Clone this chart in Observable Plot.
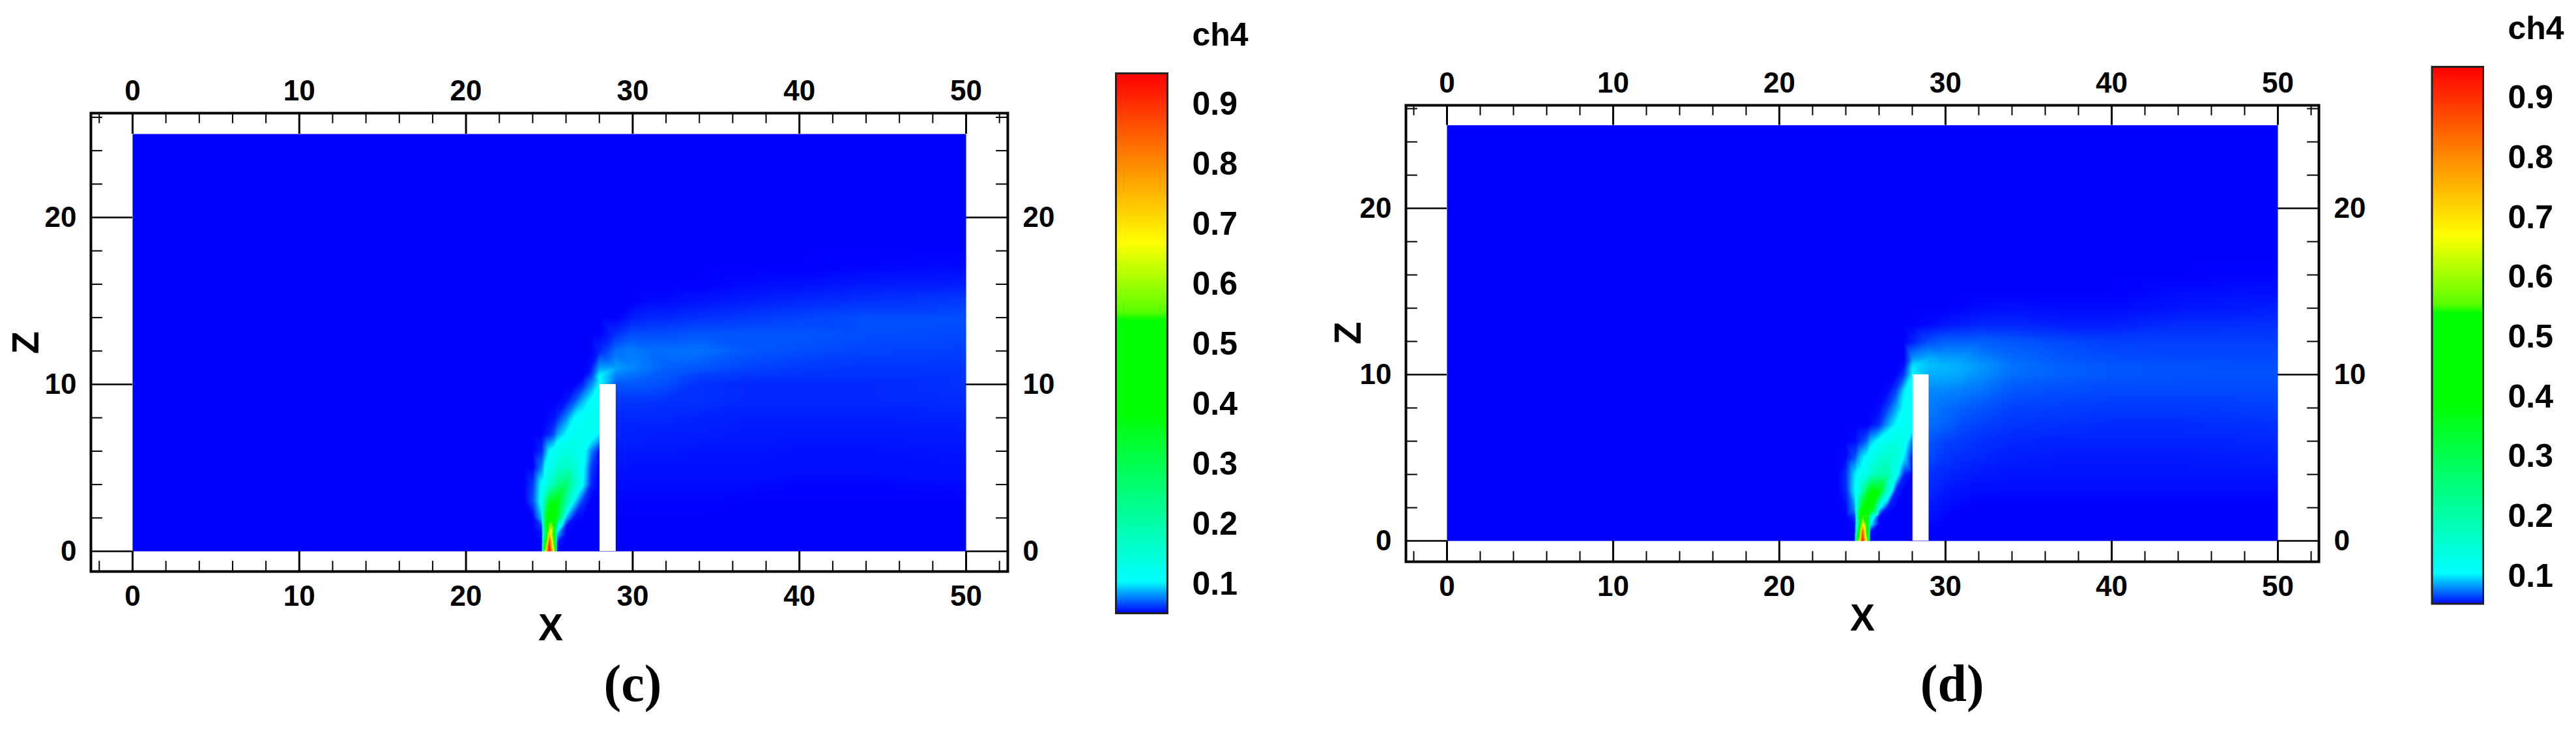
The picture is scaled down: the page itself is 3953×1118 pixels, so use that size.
<!DOCTYPE html>
<html>
<head>
<meta charset="utf-8">
<script src="https://cdn.jsdelivr.net/npm/d3@7"></script>
<script src="https://cdn.jsdelivr.net/npm/@observablehq/plot@0.6"></script>
<style>
html,body{margin:0;padding:0;background:#fff;width:3953px;height:1118px;overflow:hidden}
</style>
</head>
<body>
<script>
// sample positions of the ch4 field
const xNodes = [0,23.5,24,24.55,24.72,25,25.28,25.45,26,26.5,27,27.5,28,29,30,31,32,34,37,40,44,50];
const zNodes = [0,0.5,1,1.5,2,3,4,5,6,7,8,9,10,10.5,11,12,13,14,15,16,17,18,25];

// ch4 × 1000 at each (z row, x column)
const fieldC = [
 [52,52,52,52,600,950,650,52,52,52,52,52,52,52,52,52,52,52,52,52,52,52],
 [52,52,52,52,380,900,520,58,52,52,52,52,52,52,52,52,52,52,52,52,52,52],
 [52,52,52,56,220,760,450,90,52,52,52,52,52,52,52,52,52,52,52,52,52,52],
 [52,52,52,65,300,600,520,150,55,52,52,52,52,52,52,52,52,52,52,52,52,52],
 [52,52,52,95,300,480,500,340,90,55,52,52,52,52,52,52,52,52,52,52,52,52],
 [52,52,68,115,210,350,370,370,210,100,64,52,52,53,53,53,53,53,52,52,52,52],
 [52,52,64,110,118,160,190,230,270,160,105,60,52,54,54,54,54,54,54,53,53,54],
 [52,52,52,80,105,120,135,160,175,150,110,65,52,56,55,55,55,55,55,55,55,55],
 [52,52,52,60,80,105,115,125,140,130,115,80,56,57,57,57,57,56,56,55,55,56],
 [52,52,52,52,56,60,70,85,105,118,125,118,100,59,59,58,58,58,57,57,57,57],
 [52,52,52,52,52,54,56,60,80,105,112,120,120,60,60,60,60,59,58,58,58,59],
 [52,52,52,52,52,52,52,52,56,70,90,108,115,63,63,63,62,62,60,60,60,61],
 [52,52,52,52,52,52,52,52,52,52,60,80,105,70,70,70,68,62,60,60,60,62],
 [52,52,52,52,52,52,52,52,52,52,52,65,105,78,75,72,70,65,63,62,62,62],
 [52,52,52,52,52,52,52,52,52,52,52,56,85,85,80,76,72,70,66,64,63,63],
 [52,52,52,52,52,52,52,52,52,52,52,52,60,75,78,75,75,76,70,68,66,65],
 [52,52,52,52,52,52,52,52,52,52,52,52,52,62,68,68,68,70,70,70,68,67],
 [52,52,52,52,52,52,52,52,52,52,52,52,52,52,58,60,60,62,64,66,68,68],
 [52,52,52,52,52,52,52,52,52,52,52,52,52,52,52,54,54,56,58,60,62,64],
 [52,52,52,52,52,52,52,52,52,52,52,52,52,52,52,52,52,52,54,55,57,58],
 [52,52,52,52,52,52,52,52,52,52,52,52,52,52,52,52,52,52,52,52,53,54],
 [52,52,52,52,52,52,52,52,52,52,52,52,52,52,52,52,52,52,52,52,52,52],
 [52,52,52,52,52,52,52,52,52,52,52,52,52,52,52,52,52,52,52,52,52,52]
];
const fieldD = [
 [52,52,52,52,560,950,600,52,52,52,52,52,52,52,52,52,52,52,52,52,52,52],
 [52,52,52,52,340,880,480,56,52,52,52,52,52,52,52,52,52,52,52,52,52,52],
 [52,52,52,56,200,700,470,110,52,52,52,52,52,54,52,52,52,52,52,52,52,52],
 [52,52,52,65,260,540,560,170,55,52,52,52,52,56,53,52,52,52,52,52,52,52],
 [52,52,54,85,200,380,480,460,110,58,52,52,52,57,54,53,52,52,52,52,52,52],
 [52,52,60,105,118,200,320,380,380,150,60,52,52,60,57,55,54,54,54,54,54,54],
 [52,52,62,100,108,115,135,160,200,200,120,60,52,62,60,58,57,56,56,56,56,56],
 [52,52,54,70,85,100,110,120,150,165,150,100,56,67,63,61,60,58,57,57,57,58],
 [52,52,52,54,58,65,75,90,110,125,135,125,75,70,66,64,62,60,59,59,59,60],
 [52,52,52,52,52,52,52,54,62,85,105,115,120,75,72,68,66,63,62,61,61,62],
 [52,52,52,52,52,52,52,52,54,66,85,108,120,78,75,72,70,66,65,64,64,65],
 [52,52,52,52,52,52,52,52,52,54,66,100,112,80,80,78,76,70,68,67,67,67],
 [52,52,52,52,52,52,52,52,52,52,52,65,105,88,88,86,82,75,72,70,69,69],
 [52,52,52,52,52,52,52,52,52,52,52,56,100,92,90,88,84,76,72,70,69,68],
 [52,52,52,52,52,52,52,52,52,52,52,52,82,88,85,84,80,74,70,68,67,67],
 [52,52,52,52,52,52,52,52,52,52,52,52,58,68,72,72,72,70,67,65,65,65],
 [52,52,52,52,52,52,52,52,52,52,52,52,52,54,56,58,60,60,58,58,61,62],
 [52,52,52,52,52,52,52,52,52,52,52,52,52,52,52,53,54,55,54,54,56,58],
 [52,52,52,52,52,52,52,52,52,52,52,52,52,52,52,52,52,52,52,52,54,55],
 [52,52,52,52,52,52,52,52,52,52,52,52,52,52,52,52,52,52,52,52,52,53],
 [52,52,52,52,52,52,52,52,52,52,52,52,52,52,52,52,52,52,52,52,52,52],
 [52,52,52,52,52,52,52,52,52,52,52,52,52,52,52,52,52,52,52,52,52,52],
 [52,52,52,52,52,52,52,52,52,52,52,52,52,52,52,52,52,52,52,52,52,52]
];

const xMajor = [0,10,20,30,40,50];
const xMinor = [-2,2,4,6,8,12,14,16,18,22,24,26,28,32,34,36,38,42,44,46,48,52];
const zMajor = [0,10,20];
const zMinor = [2,4,6,8,12,14,16,18,22,24,26];
const barTicks = [0.1,0.2,0.3,0.4,0.5,0.6,0.7,0.8,0.9];
const colorDomain = [0.052,0.105,0.39,0.54,0.555,0.67,0.8,0.952];
const colorRange = ["#0000ff","#00ffff","#00ff00","#00ff00","#5cff00","#ffff00","#ff8c00","#ff0000"];
const wall = [{x1:28.03,x2:29,y1:0,y2:10}];

const sans = "'Liberation Sans', Arial, sans-serif";
const color = {type:"linear",domain:colorDomain,range:colorRange,clamp:true};

function flatten(rows){
  const out=[];
  rows.forEach((row,i)=>row.forEach((v,j)=>out.push({x:xNodes[j],z:zNodes[i],v:v/1000})));
  return out;
}

function panel(o){
  const samples = flatten(o.field);
  const [x0,x1]=o.xDomain, [z0,z1]=o.zDomain;
  const axisStyle={tickSize:0,fontSize:44,fontWeight:"bold",fontFamily:sans,label:null,tickFormat:d=>String(d)};
  return Plot.plot({
    width:o.width,height:1118,
    marginLeft:o.marginLeft,marginRight:o.marginRight,marginTop:o.marginTop,marginBottom:o.marginBottom,
    x:{domain:o.xDomain,axis:null},
    y:{domain:o.zDomain,axis:null},
    color,
    style:{position:"absolute",left:o.left+"px",top:"0px",background:"transparent",maxWidth:"none",overflow:"visible"},
    marks:[
      Plot.raster(samples,{x:"x",y:"z",fill:"v",x1:0,x2:50,y1:0,y2:25,interpolate:"barycentric",pixelSize:1}),
      Plot.rect(wall,{x1:"x1",x2:"x2",y1:"y1",y2:"y2",fill:"white"}),
      // major ticks run from the frame to the data edge
      Plot.ruleX(xMajor,{y1:z1,y2:25,stroke:"black",strokeWidth:3}),
      Plot.ruleX(xMajor,{y1:z0,y2:0,stroke:"black",strokeWidth:3}),
      Plot.ruleY(zMajor,{x1:x0,x2:0,stroke:"black",strokeWidth:2.5}),
      Plot.ruleY(zMajor,{x1:50,x2:x1,stroke:"black",strokeWidth:2.5}),
      // minor ticks
      Plot.ruleX(xMinor,{y1:z1,y2:z1-0.62,stroke:"black",strokeWidth:2}),
      Plot.ruleX(xMinor,{y1:z0,y2:z0+0.62,stroke:"black",strokeWidth:2}),
      Plot.ruleY(zMinor,{x1:x0,x2:x0+0.7,stroke:"black",strokeWidth:2}),
      Plot.ruleY(zMinor,{x1:x1-0.7,x2:x1,stroke:"black",strokeWidth:2}),
      Plot.frame({stroke:"black",strokeWidth:4}),
      Plot.axisX({anchor:"top",ticks:xMajor,tickPadding:20,...axisStyle}),
      Plot.axisX({anchor:"bottom",ticks:xMajor,tickPadding:21,...axisStyle}),
      Plot.axisY({anchor:"left",ticks:zMajor,tickPadding:22,...axisStyle}),
      Plot.axisY({anchor:"right",ticks:zMajor,tickPadding:23,...axisStyle}),
      Plot.text(["X"],{x:o.xTitle[0],y:o.xTitle[1],text:d=>d,fontSize:57,fontWeight:"bold",fontFamily:sans,lineAnchor:"middle"}),
      Plot.text(["Z"],{x:o.zTitle[0],y:o.zTitle[1],text:d=>d,fontSize:57,fontWeight:"bold",fontFamily:sans,lineAnchor:"middle",rotate:-90}),
      Plot.text([o.tag],{x:o.tagPos[0],y:o.tagPos[1],text:d=>d,fontSize:80,fontWeight:"bold",fontFamily:"'Liberation Serif', serif",lineAnchor:"middle"})
    ]
  });
}

function colorbar(o){
  return Plot.plot({
    width:o.width,height:1118,
    marginLeft:o.marginLeft,marginRight:o.marginRight,marginTop:o.marginTop,marginBottom:o.marginBottom,
    x:{domain:[0,1],axis:null},
    y:{domain:o.domain,axis:null},
    color,
    style:{position:"absolute",left:o.left+"px",top:"0px",background:"transparent",maxWidth:"none",overflow:"visible"},
    marks:[
      Plot.raster({fill:(x,y)=>y,x1:0,x2:1,y1:o.domain[0],y2:o.domain[1],pixelSize:1}),
      Plot.frame({stroke:"#222",strokeWidth:3}),
      Plot.axisY({anchor:"right",ticks:barTicks,tickSize:0,tickPadding:o.pad,tickFormat:".1f",fontSize:50,fontWeight:"bold",fontFamily:sans,label:null}),
      Plot.text(["ch4"],{x:1+o.pad/o.barWidth,y:o.titleY,text:d=>d,textAnchor:"start",lineAnchor:"middle",fontSize:50,fontWeight:"bold",fontFamily:sans})
    ]
  });
}

document.body.append(
  panel({field:fieldC,tag:"(c)",left:0,width:1660,marginLeft:139,marginRight:114,marginTop:173,marginBottom:242,
    xDomain:[-2.5,52.5],zDomain:[-1.21,26.25],xTitle:[25.08,-4.6],zTitle:[-6.37,12.5],tagPos:[30,-7.96]}),
  colorbar({left:1700,width:253,marginLeft:12,marginRight:162,marginTop:112,marginBottom:178,barWidth:79,pad:38,domain:[0.052,0.952],titleY:1.016}),
  panel({field:fieldD,tag:"(d)",left:2000,width:1650,marginLeft:157,marginRight:92,marginTop:161,marginBottom:257,
    xDomain:[-2.47,52.47],zDomain:[-1.25,26.2],xTitle:[25,-4.66],zTitle:[-5.92,12.5],tagPos:[30.4,-8.62]}),
  colorbar({left:3720,width:233,marginLeft:11.5,marginRight:143,marginTop:102,marginBottom:192.5,barWidth:78.5,pad:38,domain:[0.054,0.952],titleY:1.016})
);
</script>
</body>
</html>
